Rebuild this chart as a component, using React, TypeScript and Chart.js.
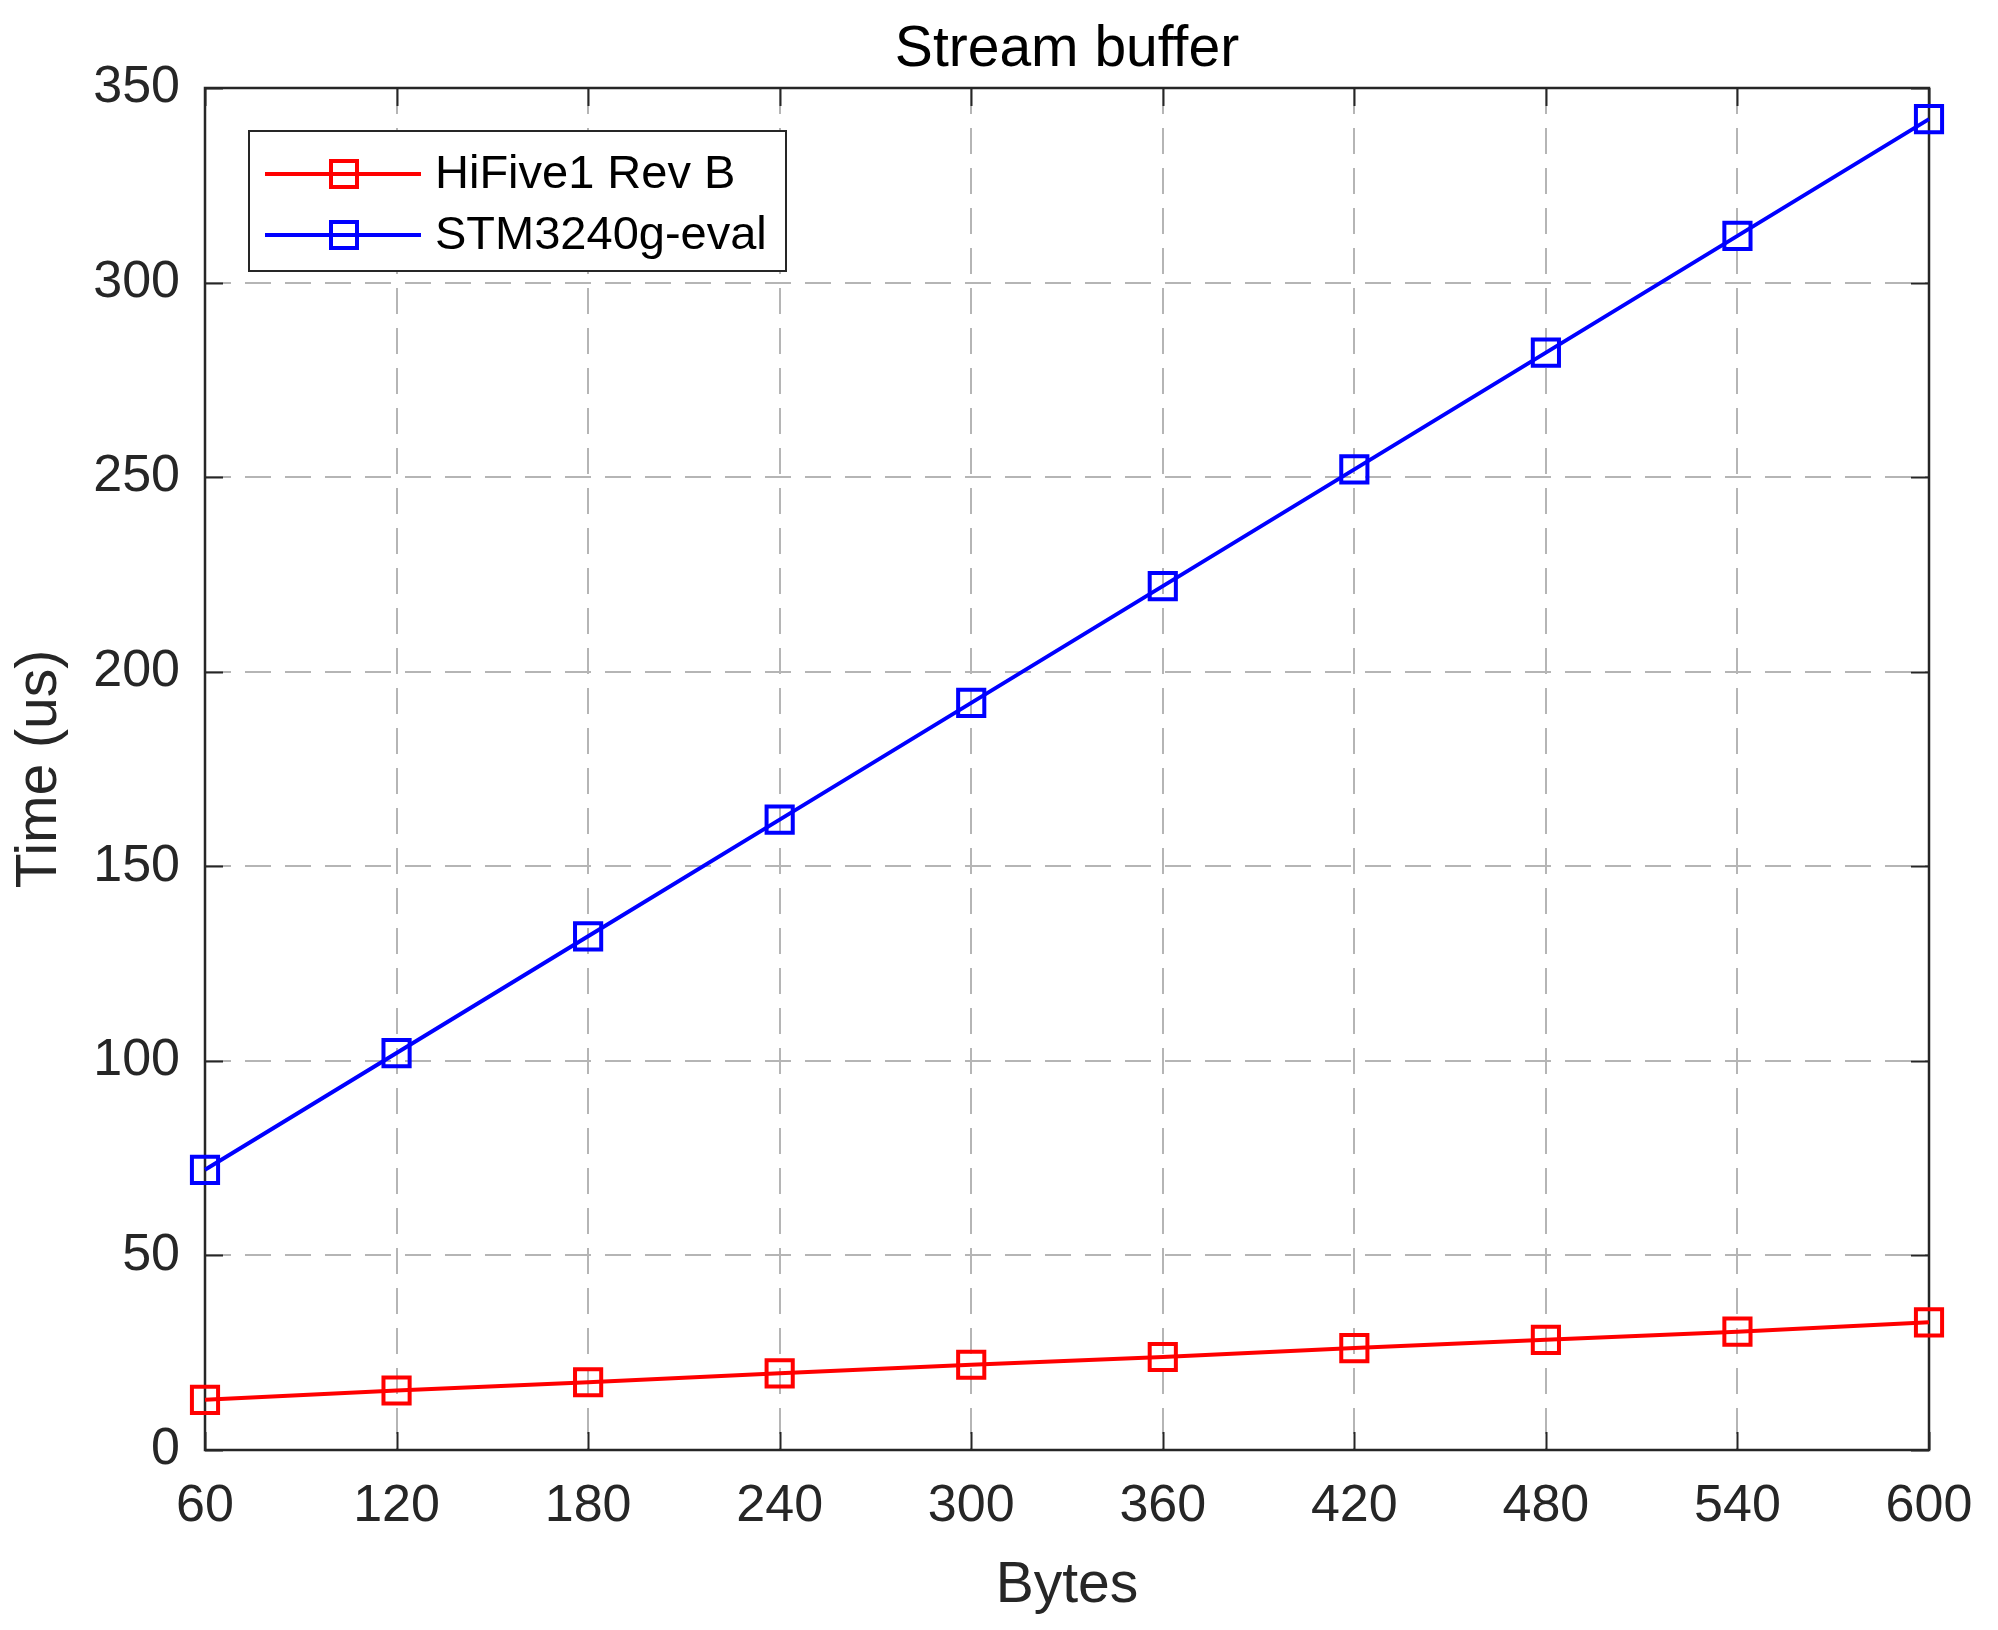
import React, { useEffect, useRef } from "react";
import { Chart, registerables } from "chart.js";

Chart.register(...registerables);

const bytes = [60, 120, 180, 240, 300, 360, 420, 480, 540, 600];
const hifiveTimes = [12.9, 15.3, 17.4, 19.7, 21.9, 23.9, 26.2, 28.3, 30.4, 32.8];
const stmTimes = [72, 102, 132, 162, 192, 222, 252, 282, 312, 342];
const xTickValues = [60, 120, 180, 240, 300, 360, 420, 480, 540, 600];
const yTickValues = [0, 50, 100, 150, 200, 250, 300, 350];
const seriesLabels = ["HiFive1 Rev B", "STM3240g-eval"];
const seriesColors = ["#ff0000", "#0000ff"];
const chartTitle = "Stream buffer";

const FONT = "'Liberation Sans', Arial, Helvetica, sans-serif";
const TEXT = "#262626";

const boxPlugin = {
  id: "matlabBox",
  beforeDatasetsDraw(chart: any) {
    const { ctx, chartArea, scales } = chart;
    const { left, right, top, bottom } = chartArea;
    const tl = 18;
    ctx.save();
    ctx.strokeStyle = TEXT;
    ctx.lineWidth = 2;
    ctx.beginPath();
    xTickValues.forEach((v) => {
      const px = Math.round(scales.x.getPixelForValue(v)) + 0.5;
      ctx.moveTo(px, bottom);
      ctx.lineTo(px, bottom - tl);
      ctx.moveTo(px, top);
      ctx.lineTo(px, top + tl);
    });
    yTickValues.forEach((v) => {
      const py = Math.round(scales.y.getPixelForValue(v)) + 0.5;
      ctx.moveTo(left, py);
      ctx.lineTo(left + tl, py);
      ctx.moveTo(right, py);
      ctx.lineTo(right - tl, py);
    });
    ctx.stroke();
    ctx.lineWidth = 2.5;
    ctx.strokeRect(left, top, right - left, bottom - top);
    ctx.restore();
  },
  afterDraw(chart: any) {
    const { ctx, chartArea } = chart;
    ctx.save();
    ctx.fillStyle = "#000000";
    ctx.font = `57px ${FONT}`;
    ctx.textAlign = "center";
    ctx.textBaseline = "alphabetic";
    ctx.fillText(chartTitle, (chartArea.left + chartArea.right) / 2, 66);
    ctx.restore();
  },
};

const legendPlugin = {
  id: "matlabLegend",
  afterDraw(chart: any) {
    const { ctx, chartArea } = chart;
    const x0 = chartArea.left + 44;
    const y0 = chartArea.top + 43;
    const w = 537;
    const h = 140;
    ctx.save();
    ctx.fillStyle = "#ffffff";
    ctx.fillRect(x0, y0, w, h);
    ctx.strokeStyle = TEXT;
    ctx.lineWidth = 2;
    ctx.strokeRect(x0, y0, w, h);
    chart.data.datasets.forEach((ds: any, i: number) => {
      const cy = y0 + 43 + i * 61;
      ctx.strokeStyle = ds.borderColor;
      ctx.lineWidth = ds.borderWidth;
      ctx.beginPath();
      ctx.moveTo(x0 + 16, cy);
      ctx.lineTo(x0 + 172, cy);
      ctx.stroke();
      ctx.lineWidth = ds.pointBorderWidth;
      ctx.strokeRect(x0 + 95 - 13, cy - 13, 26, 26);
      ctx.fillStyle = "#000000";
      ctx.font = `47px ${FONT}`;
      ctx.textBaseline = "middle";
      ctx.textAlign = "left";
      ctx.fillText(ds.label, x0 + 186, cy + 1);
    });
    ctx.restore();
  },
};

export default function App() {
  const ref = useRef<HTMLCanvasElement | null>(null);

  useEffect(() => {
    document.body.style.margin = "0";
    const canvas = ref.current;
    if (!canvas) return;
    const series = [hifiveTimes, stmTimes];
    const chart = new Chart(canvas, {
      type: "line",
      data: {
        datasets: series.map((vals, i) => ({
          label: seriesLabels[i],
          data: bytes.map((b, j) => ({ x: b, y: vals[j] })),
          borderColor: seriesColors[i],
          backgroundColor: "rgba(0,0,0,0)",
          borderWidth: 4,
          pointStyle: "rect",
          pointRadius: 18.5,
          pointBorderWidth: 4,
          pointBackgroundColor: "rgba(0,0,0,0)",
          pointBorderColor: seriesColors[i],
          tension: 0,
          clip: false,
        })),
      },
      options: {
        animation: false,
        responsive: false,
        devicePixelRatio: 1,
        layout: { padding: { left: 0, right: 69, top: 88, bottom: 0 } },
        plugins: {
          legend: { display: false },
          tooltip: { enabled: false },
          title: { display: false },
        },
        scales: {
          x: {
            type: "linear",
            min: 60,
            max: 600,
            afterBuildTicks: (scale: any) => {
              scale.ticks = xTickValues.map((v) => ({ value: v }));
            },
            afterFit: (scale: any) => {
              scale.height = 180;
            },
            grid: { color: "#b5b5b5", lineWidth: 2, drawTicks: false },
            border: { display: false, dash: [26, 14] },
            ticks: {
              color: TEXT,
              padding: 25,
              font: { family: FONT, size: 52 },
              maxRotation: 0,
            },
            title: {
              display: true,
              text: "Bytes",
              color: TEXT,
              font: { family: FONT, size: 57, lineHeight: 1.2 },
              padding: { top: 0, bottom: 10 },
            },
          },
          y: {
            type: "linear",
            min: 0,
            max: 350,
            afterBuildTicks: (scale: any) => {
              scale.ticks = yTickValues.map((v) => ({ value: v }));
            },
            afterFit: (scale: any) => {
              scale.width = 205;
            },
            grid: { color: "#b5b5b5", lineWidth: 2, drawTicks: false },
            border: { display: false, dash: [26, 14] },
            ticks: {
              color: TEXT,
              padding: 25,
              font: { family: FONT, size: 52 },
            },
            title: {
              display: true,
              text: "Time (us)",
              color: TEXT,
              font: { family: FONT, size: 57, lineHeight: 1.2 },
              padding: { top: 6, bottom: 0 },
            },
          },
        },
      } as any,
      plugins: [boxPlugin, legendPlugin],
    });
    return () => chart.destroy();
  }, []);

  return (
    <div style={{ position: "absolute", left: 0, top: 0, width: 1998, height: 1630, background: "#fff" }}>
      <canvas ref={ref} width={1998} height={1630} style={{ display: "block" }} />
    </div>
  );
}
